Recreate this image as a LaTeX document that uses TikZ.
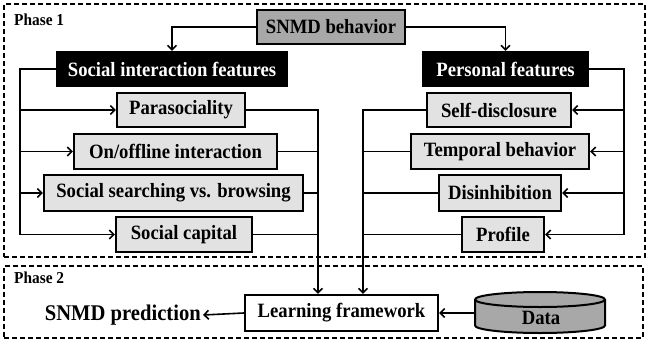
\documentclass[tikz,border=0pt]{standalone}
\usepackage{fontspec}
\setmainfont[FakeStretch=0.92]{Liberation Serif}
\usetikzlibrary{arrows.meta,calc}
\definecolor{dgray}{RGB}{168,168,168}
\definecolor{lgray}{RGB}{226,226,226}
\begin{document}
\begin{tikzpicture}[x=1pt,y=-1pt,
  font=\fontsize{20.3}{22}\selectfont\bfseries,
  box/.style={draw, line width=2.1pt, inner sep=0pt, fill=lgray, minimum height=34pt},
  blackbox/.style={draw, line width=2.1pt, inner sep=0pt, fill=black, text=white, minimum height=34pt},
  phase/.style={draw, line width=1.3pt, dash pattern=on 5pt off 3pt, inner sep=0pt},
  phaselabel/.style={anchor=west, inner sep=0pt, font=\fontsize{16.7}{18}\selectfont\bfseries},
  conn/.style={line width=1.6pt},
  arr/.style={line width=1.6pt, -{Straight Barb[length=4.5pt,width=9pt,line width=1.6pt]}}
]
\useasboundingbox (0,0) rectangle (652,342);

% phase frames
\node[phase, minimum width=641pt, minimum height=253pt] (ph1) at (324.5,130.5) {};
\node[phase, minimum width=639pt, minimum height=72pt] (ph2) at (323.5,302) {};
\node[phaselabel] (ph1l) at (14,20) {Phase 1};
\node[phaselabel] (ph2l) at (14,278) {Phase 2};

% top
\node[box, fill=dgray, minimum width=148pt] (snmd) at (331,27) {SNMD behavior};
\node[blackbox, minimum width=230pt] (social) at (172,69) {Social interaction features};
\node[blackbox, minimum width=165pt] (personal) at (505.5,69) {Personal features};

% left features
\node[box, minimum width=128pt] (para) at (181,110) {Parasociality};
\node[box, minimum width=203pt, minimum height=35pt] (onoff) at (175.5,151.5) {On/offline interaction};
\node[box, minimum width=259pt, minimum height=36pt] (search) at (173.5,193) {Social searching vs. browsing};
\node[box, minimum width=136pt, minimum height=35pt] (capital) at (184,234.5) {Social capital};

% right features
\node[box, minimum width=144pt] (self) at (499,110) {Self-disclosure};
\node[box, minimum width=178pt, minimum height=35pt] (temporal) at (500,151.5) {Temporal behavior};
\node[box, minimum width=122pt, minimum height=36pt] (disinh) at (500,193) {Disinhibition};
\node[box, minimum width=82pt, minimum height=35pt] (profile) at (503,234.5) {Profile};

% phase 2
\node[box, fill=white, minimum width=193pt, minimum height=36pt] (learn) at (341.5,313) {Learning framework};
\node[inner sep=0pt, anchor=east, font=\fontsize{22.4}{24}\selectfont\bfseries] (pred) at (201,315) {SNMD prediction};
\node[inner sep=0pt, minimum width=130pt, minimum height=41pt] (data) at (540,313) {};
\filldraw[fill=dgray, line width=2pt] (475,299.5) -- (475,325.5)
  arc[start angle=180, end angle=0, x radius=65, y radius=7.5] -- (605,299.5)
  arc[start angle=0, end angle=-180, x radius=65, y radius=7.5] -- cycle;
\draw[line width=2pt] (475,299.5) arc[start angle=180, end angle=0, x radius=65, y radius=7.5];
\node[inner sep=0pt] (datat) at (541,318) {Data};

% coordinates for buses
\coordinate (LB) at (20,234.5);
\coordinate (LX) at (318,0);
\coordinate (RB) at (624,234.5);
\coordinate (RX) at (363,0);

% top arrows
\draw[arr] (snmd.west) -| (social.north);
\draw[arr] (snmd.east) -| (personal.north);

% left bus
\draw[arr] (social.west) -| (LB) -- (capital.west);
\foreach \n in {para,onoff,search}
  \draw[arr] (\n.west -| LB) -- (\n.west);
\foreach \n in {onoff,search,capital}
  \draw[conn] (\n.east) -- (\n.east -| LX);
\draw[arr] (para.east) -- (para.east -| LX) -- (LX |- learn.north);

% right bus
\draw[arr] (personal.east) -| (RB) -- (profile.east);
\foreach \n in {self,temporal,disinh}
  \draw[arr] (\n.east -| RB) -- (\n.east);
\foreach \n in {temporal,disinh,profile}
  \draw[conn] (\n.west) -- (\n.west -| RX);
\draw[arr] (self.west) -- (self.west -| RX) -- (RX |- learn.north);

% phase 2 arrows
\draw[arr] (data.west) -- (learn.east |- data.west);
\draw[arr] (learn.west) -- ($(pred.east)+(2,0)$);
\end{tikzpicture}
\end{document}
